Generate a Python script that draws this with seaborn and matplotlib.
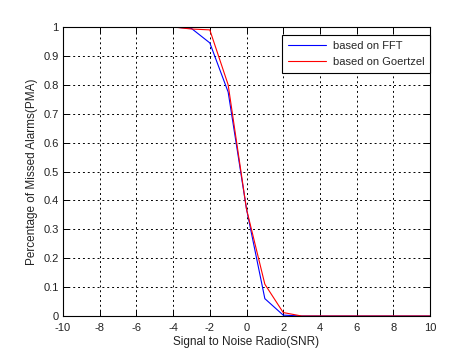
import matplotlib
matplotlib.use("Agg")
import matplotlib.pyplot as plt
import seaborn as sns
import pandas as pd

snr = list(range(-10, 11))
pma_fft = [1, 1, 1, 1, 1, 1, 1, 0.995, 0.945, 0.775, 0.37, 0.06, 0.003, 0, 0, 0, 0, 0, 0, 0, 0]
pma_goertzel = [1, 1, 1, 1, 1, 1, 1, 0.993, 0.99, 0.80, 0.37, 0.11, 0.012, 0, 0, 0, 0, 0, 0, 0, 0]
series_names = ["based on FFT", "based on Goertzel"]
x_ticks = list(range(-10, 11, 2))
y_ticks = [0, 0.1, 0.2, 0.3, 0.4, 0.5, 0.6, 0.7, 0.8, 0.9, 1]
y_tick_labels = ["0", "0.1", "0.2", "0.3", "0.4", "0.5", "0.6", "0.7", "0.8", "0.9", "1"]

df = pd.DataFrame({
    "SNR": snr * 2,
    "PMA": pma_fft + pma_goertzel,
    "series": [series_names[0]] * len(snr) + [series_names[1]] * len(snr),
})

sns.set_theme(style="white")
plt.rcParams["font.family"] = ["Liberation Sans", "DejaVu Sans"]

fig = plt.figure(figsize=(4.74, 3.55), dpi=100)
ax = fig.add_axes([63 / 474, 1 - 316 / 355, (430 - 63) / 474, (316 - 27) / 355])

sns.lineplot(data=df, x="SNR", y="PMA", hue="series", palette=["#0000ff", "#ff0000"],
             linewidth=0.8, ax=ax, legend=True)

ax.set_xlim(-10, 10)
ax.set_ylim(0, 1)
ax.set_xticks(x_ticks)
ax.set_xticklabels([str(t) for t in x_ticks])
ax.set_yticks(y_ticks)
ax.set_yticklabels(y_tick_labels)
ax.grid(True, color="black", linestyle=(0, (2, 3)), linewidth=0.7)
ax.tick_params(direction="in", length=4, width=0.7, colors="black", labelsize=8,
               top=True, right=True, bottom=True, left=True)
ax.tick_params(axis="x", pad=5)
ax.tick_params(axis="y", pad=3)
for lab in ax.get_xticklabels() + ax.get_yticklabels():
    lab.set_color("#222222")
for s in ax.spines.values():
    s.set_color("black")
    s.set_linewidth(0.8)
    s.set_visible(True)

ax.set_xlabel("Signal to Noise Radio(SNR)", fontsize=8.5, color="#222222", labelpad=2)
ax.set_ylabel("Percentage of Missed Alarms(PMA)", fontsize=8.5, color="#222222", labelpad=4)

leg = ax.legend(loc="upper right", bbox_to_anchor=(1.016, 0.99), fontsize=8,
                frameon=True, fancybox=False, edgecolor="black", framealpha=1,
                handlelength=3.5, borderpad=0.5, labelspacing=0.55, handletextpad=0.6)
leg.get_frame().set_linewidth(0.8)
leg.set_title(None)

fig.savefig("out.png", dpi=100, facecolor="white")
